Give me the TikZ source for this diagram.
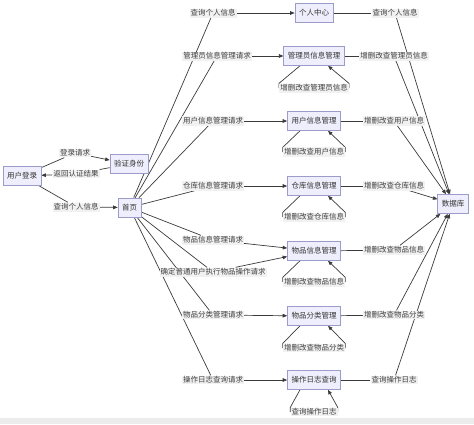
\documentclass[tikz,border=0pt]{standalone}
\usepackage{fontspec}
\setmainfont{Noto Sans CJK SC}
\usetikzlibrary{arrows.meta,calc}
\definecolor{nodefill}{HTML}{EEEEFC}
\definecolor{nodeline}{HTML}{9C9CCB}
\definecolor{linec}{HTML}{3A3A3A}
\definecolor{lblfill}{HTML}{F1F1F1}
\definecolor{band}{HTML}{ECECEC}
\pgfdeclarelayer{bg}
\pgfsetlayers{bg,main}
\begin{document}
\begin{tikzpicture}[x=1pt,y=-1pt,
  box/.style={draw=nodeline, fill=nodefill, line width=0.6pt, inner xsep=4pt, minimum height=19pt, font=\fontsize{7.5}{8}\selectfont, text=black!80},
  lbl/.style={fill=lblfill, inner sep=1pt, font=\fontsize{7.5}{8}\selectfont, text=black!75},
  conn/.style={draw=linec, line width=0.7pt},
  arr/.style={conn, -{Triangle[length=4.5pt,width=3.6pt]}}]
\useasboundingbox (0,0) rectangle (474,424);
\fill[band] (0,418) rectangle (474,424);
% main nodes
\node[box] (login) at (22,176) {用户登录};
\node[box] (auth) at (129,164) {验证身份};
\node[box] (home) at (129.5,207.5) {首页};
\node[box] (n1) at (314,13) {个人中心};
\node[box] (n2) at (314,56) {管理员信息管理};
\node[box] (n3) at (314,121) {用户信息管理};
\node[box] (n4) at (314,186) {仓库信息管理};
\node[box] (n5) at (314,251) {物品信息管理};
\node[box] (n6) at (314,316) {物品分类管理};
\node[box] (n7) at (314,380) {操作日志查询};
\node[box] (db) at (453,204) {数据库};
% login labels
\node[lbl] (l1) at (75,153) {登录请求};
\node[lbl] (l2) at (76,174) {返回认证结果};
\node[lbl] (l3) at (76,207) {查询个人信息};
% request labels
\node[lbl] (r1) at (213,13) {查询个人信息};
\node[lbl] (r2) at (217,56) {管理员信息管理请求};
\node[lbl] (r3) at (213,121) {用户信息管理请求};
\node[lbl] (r4) at (213,186) {仓库信息管理请求};
\node[lbl] (r5) at (213,240) {物品信息管理请求};
\node[lbl] (r5b) at (213,272) {确定普通用户执行物品操作请求};
\node[lbl] (r6) at (213,315) {物品分类管理请求};
\node[lbl] (r7) at (213,380) {操作日志查询请求};
% database labels
\node[lbl] (s1) at (395,13) {查询个人信息};
\node[lbl] (s2) at (394,56) {增删改查管理员信息};
\node[lbl] (s3) at (394,121) {增删改查用户信息};
\node[lbl] (s4) at (394,186) {增删改查仓库信息};
\node[lbl] (s5) at (394,250) {增删改查物品信息};
\node[lbl] (s6) at (394,315) {增删改查物品分类};
\node[lbl] (s7) at (394,380) {查询操作日志};
% loop labels
\node[lbl] (t2) at (314,88) {增删改查管理员信息};
\node[lbl] (t3) at (314,152) {增删改查用户信息};
\node[lbl] (t4) at (314,217) {增删改查仓库信息};
\node[lbl] (t5) at (314,282) {增删改查物品信息};
\node[lbl] (t6) at (314,348) {增删改查物品分类};
\node[lbl] (t7) at (314,412) {查询操作日志};
\begin{pgfonlayer}{bg}
\draw[conn] (login) -- (l1);
\draw[arr] (l1) -- (auth);
\draw[conn] (auth) -- (l2);
\draw[arr] (l2) -- (login);
\draw[conn] (login) -- (l3);
\draw[arr] (l3) -- (home);
\foreach \i in {1,2,3,4,5,6,7}{
  \draw[conn] (home) -- (r\i);
  \draw[arr] (r\i) -- (n\i);
  \draw[conn] (n\i) -- (s\i);
  \draw[arr] (s\i) -- (db);
}
\draw[conn] (home) -- (r5b);
\draw[arr] (r5b) -- (n5);
\foreach \i in {2,3,4,5,6,7}{
  \draw[conn] ([xshift=-14pt]n\i.south) -- (t\i.north west) -- (t\i.west);
  \draw[arr] (t\i.west -| t\i.east) -- (t\i.north east) -- ([xshift=14pt]n\i.south);
}
\end{pgfonlayer}
\end{tikzpicture}
\end{document}
